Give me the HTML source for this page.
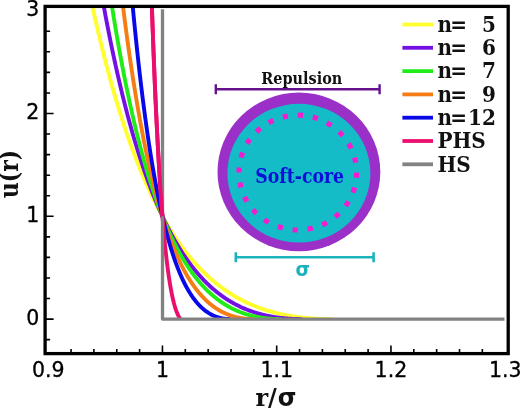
<!DOCTYPE html><html><head><meta charset="utf-8"><title>u(r)</title><style>html,body{margin:0;padding:0;background:#fff}svg{display:block}text{font-family:"DejaVu Serif","Liberation Serif",serif;font-weight:bold}.t{font-family:"DejaVu Sans","Liberation Sans",sans-serif;font-weight:normal;font-size:20.5px;stroke:#000;stroke-width:.3px}.sb{font-family:"DejaVu Sans","Liberation Sans",sans-serif;font-weight:bold}</style></head><body>
<svg width="520" height="409" viewBox="0 0 520 409">
<rect width="520" height="409" fill="#fff"/>
<defs><clipPath id="c"><rect x="45.1" y="6.4" width="463.1" height="313.7"/></clipPath></defs>
<g clip-path="url(#c)" fill="none" stroke-width="3.9" stroke-linejoin="round">
<path d="M82.48,-42.25 L83.10,-39.00 L83.73,-35.77 L84.35,-32.57 L84.98,-29.39 L85.61,-26.25 L86.23,-23.12 L86.86,-20.02 L87.48,-16.95 L88.11,-13.90 L88.74,-10.87 L89.36,-7.87 L89.99,-4.90 L90.62,-1.95 L91.24,0.98 L91.87,3.89 L92.49,6.77 L93.12,9.63 L93.75,12.46 L94.37,15.27 L95.00,18.06 L95.63,20.83 L96.25,23.58 L96.88,26.30 L97.50,29.00 L98.13,31.68 L98.76,34.33 L99.38,36.97 L100.01,39.58 L100.64,42.18 L101.26,44.75 L101.89,47.30 L102.51,49.83 L103.14,52.34 L103.77,54.83 L104.39,57.30 L105.02,59.75 L105.65,62.18 L106.27,64.59 L106.90,66.98 L107.52,69.35 L108.15,71.70 L108.78,74.03 L109.40,76.34 L110.03,78.64 L110.66,80.91 L111.28,83.17 L111.91,85.41 L112.53,87.63 L113.16,89.83 L113.79,92.01 L114.41,94.18 L115.04,96.33 L115.66,98.46 L116.29,100.57 L116.92,102.67 L117.54,104.74 L118.17,106.81 L118.80,108.85 L119.42,110.88 L120.05,112.89 L120.67,114.88 L121.30,116.86 L121.93,118.82 L122.55,120.77 L123.18,122.70 L123.81,124.61 L124.43,126.51 L125.06,128.39 L125.68,130.26 L126.31,132.11 L126.94,133.94 L127.56,135.76 L128.19,137.57 L128.82,139.36 L129.44,141.13 L130.07,142.89 L130.69,144.64 L131.32,146.37 L131.95,148.09 L132.57,149.79 L133.20,151.48 L133.83,153.15 L134.45,154.81 L135.08,156.46 L135.70,158.09 L136.33,159.71 L136.96,161.32 L137.58,162.91 L138.21,164.49 L138.84,166.05 L139.46,167.61 L140.09,169.14 L140.71,170.67 L141.34,172.18 L141.97,173.68 L142.59,175.17 L143.22,176.65 L143.84,178.11 L144.47,179.56 L145.10,181.00 L145.72,182.42 L146.35,183.84 L146.98,185.24 L147.60,186.63 L148.23,188.01 L148.85,189.37 L149.48,190.73 L150.11,192.07 L150.73,193.40 L151.36,194.72 L151.99,196.03 L152.61,197.33 L153.24,198.61 L153.86,199.89 L154.49,201.15 L155.12,202.41 L155.74,203.65 L156.37,204.88 L157.00,206.10 L157.62,207.31 L158.25,208.51 L158.87,209.70 L159.50,210.88 L160.13,212.05 L160.75,213.21 L161.38,214.36 L162.01,215.50 L162.63,216.63 L163.26,217.75 L163.88,218.85 L164.51,219.95 L165.14,221.04 L165.76,222.12 L166.39,223.20 L167.02,224.26 L167.64,225.31 L168.27,226.35 L168.89,227.39 L169.52,228.41 L170.15,229.43 L170.77,230.43 L171.40,231.43 L172.02,232.42 L172.65,233.40 L173.28,234.37 L173.90,235.33 L174.53,236.29 L175.16,237.23 L175.78,238.17 L176.41,239.10 L177.03,240.02 L177.66,240.93 L178.29,241.83 L178.91,242.73 L179.54,243.62 L180.17,244.49 L180.79,245.37 L181.42,246.23 L182.04,247.09 L182.67,247.93 L183.30,248.77 L183.92,249.61 L184.55,250.43 L185.18,251.25 L185.80,252.06 L186.43,252.86 L187.05,253.65 L187.68,254.44 L188.31,255.22 L188.93,256.00 L189.56,256.76 L190.19,257.52 L190.81,258.27 L191.44,259.02 L192.06,259.75 L192.69,260.49 L193.32,261.21 L193.94,261.93 L194.57,262.64 L195.20,263.34 L195.82,264.04 L196.45,264.73 L197.07,265.41 L197.70,266.09 L198.33,266.76 L198.95,267.43 L199.58,268.09 L200.20,268.74 L200.83,269.38 L201.46,270.02 L202.08,270.66 L202.71,271.28 L203.34,271.91 L203.96,272.52 L204.59,273.13 L205.21,273.73 L205.84,274.33 L206.47,274.92 L207.09,275.51 L207.72,276.09 L208.35,276.66 L208.97,277.23 L209.60,277.80 L210.22,278.35 L210.85,278.91 L211.48,279.45 L212.10,279.99 L212.73,280.53 L213.36,281.06 L213.98,281.58 L214.61,282.10 L215.23,282.62 L215.86,283.13 L216.49,283.63 L217.11,284.13 L217.74,284.63 L218.37,285.11 L218.99,285.60 L219.62,286.08 L220.24,286.55 L220.87,287.02 L221.50,287.48 L222.12,287.94 L222.75,288.40 L223.38,288.85 L224.00,289.29 L224.63,289.73 L225.25,290.17 L225.88,290.60 L226.51,291.03 L227.13,291.45 L227.76,291.87 L228.38,292.28 L229.01,292.69 L229.64,293.10 L230.26,293.50 L230.89,293.89 L231.52,294.28 L232.14,294.67 L232.77,295.05 L233.39,295.43 L234.02,295.81 L234.65,296.18 L235.27,296.54 L235.90,296.91 L236.53,297.26 L237.15,297.62 L237.78,297.97 L238.40,298.31 L239.03,298.66 L239.66,299.00 L240.28,299.33 L240.91,299.66 L241.54,299.99 L242.16,300.31 L242.79,300.63 L243.41,300.95 L244.04,301.26 L244.67,301.57 L245.29,301.87 L245.92,302.17 L246.55,302.47 L247.17,302.77 L247.80,303.06 L248.42,303.34 L249.05,303.63 L249.68,303.91 L250.30,304.19 L250.93,304.46 L251.56,304.73 L252.18,305.00 L252.81,305.26 L253.43,305.52 L254.06,305.78 L254.69,306.03 L255.31,306.28 L255.94,306.53 L256.56,306.77 L257.19,307.01 L257.82,307.25 L258.44,307.49 L259.07,307.72 L259.70,307.95 L260.32,308.17 L260.95,308.40 L261.57,308.62 L262.20,308.83 L262.83,309.05 L263.45,309.26 L264.08,309.47 L264.71,309.67 L265.33,309.87 L265.96,310.07 L266.58,310.27 L267.21,310.47 L267.84,310.66 L268.46,310.85 L269.09,311.03 L269.72,311.22 L270.34,311.40 L270.97,311.58 L271.59,311.75 L272.22,311.92 L272.85,312.09 L273.47,312.26 L274.10,312.43 L274.73,312.59 L275.35,312.75 L275.98,312.91 L276.60,313.06 L277.23,313.22 L277.86,313.37 L278.48,313.52 L279.11,313.66 L279.74,313.80 L280.36,313.95 L280.99,314.08 L281.61,314.22 L282.24,314.36 L282.87,314.49 L283.49,314.62 L284.12,314.74 L284.74,314.87 L285.37,314.99 L286.00,315.11 L286.62,315.23 L287.25,315.35 L287.88,315.46 L288.50,315.58 L289.13,315.69 L289.75,315.79 L290.38,315.90 L291.01,316.01 L291.63,316.11 L292.26,316.21 L292.89,316.31 L293.51,316.40 L294.14,316.50 L294.76,316.59 L295.39,316.68 L296.02,316.77 L296.64,316.85 L297.27,316.94 L297.90,317.02 L298.52,317.10 L299.15,317.18 L299.77,317.26 L300.40,317.33 L301.03,317.41 L301.65,317.48 L302.28,317.55 L302.91,317.62 L303.53,317.68 L304.16,317.75 L304.78,317.81 L305.41,317.87 L306.04,317.93 L306.66,317.99 L307.29,318.05 L307.92,318.10 L308.54,318.16 L309.17,318.21 L309.79,318.26 L310.42,318.31 L311.05,318.35 L311.67,318.40 L312.30,318.44 L312.92,318.48 L313.55,318.53 L314.18,318.56 L314.80,318.60 L315.43,318.64 L316.06,318.67 L316.68,318.71 L317.31,318.74 L317.93,318.77 L318.56,318.80 L319.19,318.83 L319.81,318.85 L320.44,318.88 L321.07,318.90 L321.69,318.92 L322.32,318.94 L322.94,318.96 L323.57,318.98 L324.20,319.00 L324.82,319.01 L325.45,319.03 L326.08,319.04 L326.70,319.05 L327.33,319.06 L327.95,319.07 L328.58,319.08 L329.21,319.09 L329.83,319.09 L330.46,319.09 L331.09,319.10 L331.71,319.10 L332.34,319.10" stroke="#ffff2e"/>
<path d="M94.05,-50.72 L94.60,-47.26 L95.15,-43.82 L95.70,-40.42 L96.25,-37.04 L96.80,-33.69 L97.35,-30.37 L97.91,-27.07 L98.46,-23.80 L99.01,-20.56 L99.56,-17.35 L100.11,-14.16 L100.66,-11.00 L101.21,-7.87 L101.76,-4.76 L102.31,-1.68 L102.87,1.38 L103.42,4.41 L103.97,7.42 L104.52,10.40 L105.07,13.35 L105.62,16.28 L106.17,19.19 L106.72,22.07 L107.27,24.93 L107.83,27.77 L108.38,30.58 L108.93,33.37 L109.48,36.13 L110.03,38.87 L110.58,41.59 L111.13,44.29 L111.68,46.96 L112.23,49.61 L112.79,52.24 L113.34,54.84 L113.89,57.43 L114.44,59.99 L114.99,62.53 L115.54,65.05 L116.09,67.55 L116.64,70.03 L117.19,72.48 L117.75,74.92 L118.30,77.33 L118.85,79.73 L119.40,82.10 L119.95,84.46 L120.50,86.79 L121.05,89.11 L121.60,91.40 L122.15,93.68 L122.71,95.93 L123.26,98.17 L123.81,100.39 L124.36,102.59 L124.91,104.77 L125.46,106.93 L126.01,109.07 L126.56,111.20 L127.11,113.31 L127.66,115.39 L128.22,117.47 L128.77,119.52 L129.32,121.56 L129.87,123.57 L130.42,125.57 L130.97,127.56 L131.52,129.53 L132.07,131.48 L132.62,133.41 L133.18,135.33 L133.73,137.23 L134.28,139.11 L134.83,140.98 L135.38,142.83 L135.93,144.66 L136.48,146.48 L137.03,148.29 L137.58,150.07 L138.14,151.85 L138.69,153.60 L139.24,155.34 L139.79,157.07 L140.34,158.78 L140.89,160.48 L141.44,162.16 L141.99,163.83 L142.54,165.48 L143.10,167.12 L143.65,168.74 L144.20,170.35 L144.75,171.95 L145.30,173.53 L145.85,175.10 L146.40,176.65 L146.95,178.19 L147.50,179.72 L148.06,181.23 L148.61,182.73 L149.16,184.21 L149.71,185.69 L150.26,187.15 L150.81,188.59 L151.36,190.03 L151.91,191.45 L152.46,192.86 L153.02,194.25 L153.57,195.64 L154.12,197.01 L154.67,198.37 L155.22,199.72 L155.77,201.05 L156.32,202.37 L156.87,203.68 L157.42,204.98 L157.98,206.27 L158.53,207.55 L159.08,208.81 L159.63,210.06 L160.18,211.30 L160.73,212.53 L161.28,213.75 L161.83,214.96 L162.38,216.16 L162.94,217.34 L163.49,218.52 L164.04,219.68 L164.59,220.84 L165.14,221.98 L165.69,223.11 L166.24,224.23 L166.79,225.35 L167.34,226.45 L167.90,227.54 L168.45,228.62 L169.00,229.69 L169.55,230.75 L170.10,231.81 L170.65,232.85 L171.20,233.88 L171.75,234.90 L172.30,235.91 L172.85,236.92 L173.41,237.91 L173.96,238.90 L174.51,239.87 L175.06,240.84 L175.61,241.79 L176.16,242.74 L176.71,243.68 L177.26,244.61 L177.81,245.53 L178.37,246.45 L178.92,247.35 L179.47,248.24 L180.02,249.13 L180.57,250.01 L181.12,250.88 L181.67,251.74 L182.22,252.59 L182.77,253.44 L183.33,254.27 L183.88,255.10 L184.43,255.92 L184.98,256.74 L185.53,257.54 L186.08,258.34 L186.63,259.13 L187.18,259.91 L187.73,260.68 L188.29,261.45 L188.84,262.21 L189.39,262.96 L189.94,263.70 L190.49,264.44 L191.04,265.16 L191.59,265.89 L192.14,266.60 L192.69,267.31 L193.25,268.01 L193.80,268.70 L194.35,269.39 L194.90,270.06 L195.45,270.74 L196.00,271.40 L196.55,272.06 L197.10,272.71 L197.65,273.36 L198.21,274.00 L198.76,274.63 L199.31,275.25 L199.86,275.87 L200.41,276.49 L200.96,277.09 L201.51,277.69 L202.06,278.29 L202.61,278.87 L203.17,279.46 L203.72,280.03 L204.27,280.60 L204.82,281.16 L205.37,281.72 L205.92,282.27 L206.47,282.82 L207.02,283.36 L207.57,283.89 L208.13,284.42 L208.68,284.94 L209.23,285.46 L209.78,285.97 L210.33,286.48 L210.88,286.98 L211.43,287.47 L211.98,287.96 L212.53,288.44 L213.09,288.92 L213.64,289.40 L214.19,289.86 L214.74,290.33 L215.29,290.78 L215.84,291.24 L216.39,291.68 L216.94,292.13 L217.49,292.56 L218.04,293.00 L218.60,293.42 L219.15,293.85 L219.70,294.27 L220.25,294.68 L220.80,295.09 L221.35,295.49 L221.90,295.89 L222.45,296.28 L223.00,296.67 L223.56,297.06 L224.11,297.44 L224.66,297.81 L225.21,298.19 L225.76,298.55 L226.31,298.91 L226.86,299.27 L227.41,299.63 L227.96,299.98 L228.52,300.32 L229.07,300.66 L229.62,301.00 L230.17,301.33 L230.72,301.66 L231.27,301.99 L231.82,302.31 L232.37,302.62 L232.92,302.93 L233.48,303.24 L234.03,303.55 L234.58,303.85 L235.13,304.14 L235.68,304.44 L236.23,304.73 L236.78,305.01 L237.33,305.29 L237.88,305.57 L238.44,305.85 L238.99,306.12 L239.54,306.38 L240.09,306.65 L240.64,306.91 L241.19,307.16 L241.74,307.41 L242.29,307.66 L242.84,307.91 L243.40,308.15 L243.95,308.39 L244.50,308.63 L245.05,308.86 L245.60,309.09 L246.15,309.31 L246.70,309.53 L247.25,309.75 L247.80,309.97 L248.36,310.18 L248.91,310.39 L249.46,310.60 L250.01,310.80 L250.56,311.00 L251.11,311.20 L251.66,311.39 L252.21,311.58 L252.76,311.77 L253.32,311.96 L253.87,312.14 L254.42,312.32 L254.97,312.49 L255.52,312.67 L256.07,312.84 L256.62,313.01 L257.17,313.17 L257.72,313.33 L258.28,313.49 L258.83,313.65 L259.38,313.80 L259.93,313.95 L260.48,314.10 L261.03,314.25 L261.58,314.39 L262.13,314.53 L262.68,314.67 L263.23,314.81 L263.79,314.94 L264.34,315.07 L264.89,315.20 L265.44,315.33 L265.99,315.45 L266.54,315.57 L267.09,315.69 L267.64,315.81 L268.19,315.92 L268.75,316.03 L269.30,316.14 L269.85,316.25 L270.40,316.35 L270.95,316.45 L271.50,316.55 L272.05,316.65 L272.60,316.75 L273.15,316.84 L273.71,316.93 L274.26,317.02 L274.81,317.11 L275.36,317.19 L275.91,317.28 L276.46,317.36 L277.01,317.43 L277.56,317.51 L278.11,317.59 L278.67,317.66 L279.22,317.73 L279.77,317.80 L280.32,317.86 L280.87,317.93 L281.42,317.99 L281.97,318.05 L282.52,318.11 L283.07,318.17 L283.63,318.22 L284.18,318.28 L284.73,318.33 L285.28,318.38 L285.83,318.43 L286.38,318.47 L286.93,318.52 L287.48,318.56 L288.03,318.60 L288.59,318.64 L289.14,318.68 L289.69,318.71 L290.24,318.75 L290.79,318.78 L291.34,318.81 L291.89,318.84 L292.44,318.87 L292.99,318.89 L293.55,318.92 L294.10,318.94 L294.65,318.96 L295.20,318.98 L295.75,319.00 L296.30,319.01 L296.85,319.03 L297.40,319.04 L297.95,319.06 L298.51,319.07 L299.06,319.07 L299.61,319.08 L300.16,319.09 L300.71,319.09 L301.26,319.10 L301.81,319.10 L302.36,319.10" stroke="#7410e4"/>
<path d="M103.91,-48.20 L104.41,-44.60 L104.91,-41.03 L105.41,-37.49 L105.90,-33.98 L106.40,-30.50 L106.90,-27.05 L107.40,-23.63 L107.90,-20.24 L108.40,-16.88 L108.89,-13.55 L109.39,-10.25 L109.89,-6.98 L110.39,-3.73 L110.89,-0.51 L111.39,2.68 L111.89,5.84 L112.38,8.98 L112.88,12.09 L113.38,15.17 L113.88,18.22 L114.38,21.25 L114.88,24.25 L115.38,27.23 L115.87,30.18 L116.37,33.10 L116.87,36.00 L117.37,38.88 L117.87,41.72 L118.37,44.55 L118.86,47.35 L119.36,50.12 L119.86,52.87 L120.36,55.60 L120.86,58.30 L121.36,60.98 L121.86,63.64 L122.35,66.27 L122.85,68.88 L123.35,71.47 L123.85,74.03 L124.35,76.57 L124.85,79.09 L125.35,81.59 L125.84,84.07 L126.34,86.52 L126.84,88.95 L127.34,91.36 L127.84,93.75 L128.34,96.12 L128.83,98.46 L129.33,100.79 L129.83,103.10 L130.33,105.38 L130.83,107.65 L131.33,109.89 L131.83,112.11 L132.32,114.32 L132.82,116.50 L133.32,118.67 L133.82,120.82 L134.32,122.94 L134.82,125.05 L135.31,127.14 L135.81,129.21 L136.31,131.26 L136.81,133.30 L137.31,135.31 L137.81,137.31 L138.31,139.29 L138.80,141.25 L139.30,143.20 L139.80,145.12 L140.30,147.03 L140.80,148.92 L141.30,150.80 L141.80,152.66 L142.29,154.50 L142.79,156.32 L143.29,158.13 L143.79,159.92 L144.29,161.69 L144.79,163.45 L145.28,165.19 L145.78,166.92 L146.28,168.63 L146.78,170.33 L147.28,172.01 L147.78,173.67 L148.28,175.32 L148.77,176.95 L149.27,178.57 L149.77,180.18 L150.27,181.76 L150.77,183.34 L151.27,184.90 L151.77,186.44 L152.26,187.97 L152.76,189.49 L153.26,190.99 L153.76,192.48 L154.26,193.96 L154.76,195.42 L155.25,196.87 L155.75,198.30 L156.25,199.72 L156.75,201.13 L157.25,202.52 L157.75,203.90 L158.25,205.27 L158.74,206.62 L159.24,207.96 L159.74,209.29 L160.24,210.61 L160.74,211.91 L161.24,213.21 L161.73,214.49 L162.23,215.75 L162.73,217.01 L163.23,218.25 L163.73,219.48 L164.23,220.70 L164.73,221.91 L165.22,223.11 L165.72,224.29 L166.22,225.46 L166.72,226.62 L167.22,227.78 L167.72,228.91 L168.22,230.04 L168.71,231.16 L169.21,232.27 L169.71,233.36 L170.21,234.45 L170.71,235.52 L171.21,236.59 L171.70,237.64 L172.20,238.68 L172.70,239.71 L173.20,240.74 L173.70,241.75 L174.20,242.75 L174.70,243.74 L175.19,244.73 L175.69,245.70 L176.19,246.66 L176.69,247.61 L177.19,248.56 L177.69,249.49 L178.18,250.42 L178.68,251.33 L179.18,252.24 L179.68,253.14 L180.18,254.02 L180.68,254.90 L181.18,255.77 L181.67,256.63 L182.17,257.49 L182.67,258.33 L183.17,259.16 L183.67,259.99 L184.17,260.81 L184.67,261.62 L185.16,262.42 L185.66,263.21 L186.16,264.00 L186.66,264.77 L187.16,265.54 L187.66,266.30 L188.15,267.05 L188.65,267.80 L189.15,268.53 L189.65,269.26 L190.15,269.98 L190.65,270.69 L191.15,271.40 L191.64,272.10 L192.14,272.79 L192.64,273.47 L193.14,274.14 L193.64,274.81 L194.14,275.47 L194.64,276.13 L195.13,276.77 L195.63,277.41 L196.13,278.05 L196.63,278.67 L197.13,279.29 L197.63,279.90 L198.12,280.51 L198.62,281.11 L199.12,281.70 L199.62,282.28 L200.12,282.86 L200.62,283.43 L201.12,284.00 L201.61,284.56 L202.11,285.11 L202.61,285.66 L203.11,286.20 L203.61,286.73 L204.11,287.26 L204.60,287.78 L205.10,288.30 L205.60,288.81 L206.10,289.31 L206.60,289.81 L207.10,290.30 L207.60,290.79 L208.09,291.27 L208.59,291.74 L209.09,292.21 L209.59,292.67 L210.09,293.13 L210.59,293.59 L211.09,294.03 L211.58,294.47 L212.08,294.91 L212.58,295.34 L213.08,295.77 L213.58,296.19 L214.08,296.60 L214.57,297.01 L215.07,297.42 L215.57,297.82 L216.07,298.21 L216.57,298.60 L217.07,298.99 L217.57,299.37 L218.06,299.74 L218.56,300.11 L219.06,300.48 L219.56,300.84 L220.06,301.19 L220.56,301.54 L221.06,301.89 L221.55,302.23 L222.05,302.57 L222.55,302.90 L223.05,303.23 L223.55,303.56 L224.05,303.88 L224.54,304.19 L225.04,304.50 L225.54,304.81 L226.04,305.11 L226.54,305.41 L227.04,305.70 L227.54,305.99 L228.03,306.28 L228.53,306.56 L229.03,306.84 L229.53,307.11 L230.03,307.38 L230.53,307.65 L231.02,307.91 L231.52,308.17 L232.02,308.42 L232.52,308.67 L233.02,308.92 L233.52,309.16 L234.02,309.40 L234.51,309.64 L235.01,309.87 L235.51,310.10 L236.01,310.32 L236.51,310.54 L237.01,310.76 L237.51,310.97 L238.00,311.18 L238.50,311.39 L239.00,311.59 L239.50,311.80 L240.00,311.99 L240.50,312.19 L240.99,312.38 L241.49,312.56 L241.99,312.75 L242.49,312.93 L242.99,313.11 L243.49,313.28 L243.99,313.45 L244.48,313.62 L244.98,313.78 L245.48,313.95 L245.98,314.10 L246.48,314.26 L246.98,314.41 L247.47,314.56 L247.97,314.71 L248.47,314.85 L248.97,315.00 L249.47,315.13 L249.97,315.27 L250.47,315.40 L250.96,315.53 L251.46,315.66 L251.96,315.79 L252.46,315.91 L252.96,316.03 L253.46,316.14 L253.96,316.26 L254.45,316.37 L254.95,316.48 L255.45,316.58 L255.95,316.69 L256.45,316.79 L256.95,316.89 L257.44,316.98 L257.94,317.08 L258.44,317.17 L258.94,317.26 L259.44,317.35 L259.94,317.43 L260.44,317.51 L260.93,317.59 L261.43,317.67 L261.93,317.74 L262.43,317.82 L262.93,317.89 L263.43,317.96 L263.93,318.02 L264.42,318.09 L264.92,318.15 L265.42,318.21 L265.92,318.27 L266.42,318.32 L266.92,318.37 L267.41,318.43 L267.91,318.47 L268.41,318.52 L268.91,318.57 L269.41,318.61 L269.91,318.65 L270.41,318.69 L270.90,318.73 L271.40,318.76 L271.90,318.80 L272.40,318.83 L272.90,318.86 L273.40,318.89 L273.89,318.91 L274.39,318.94 L274.89,318.96 L275.39,318.98 L275.89,319.00 L276.39,319.02 L276.89,319.03 L277.38,319.05 L277.88,319.06 L278.38,319.07 L278.88,319.08 L279.38,319.09 L279.88,319.09 L280.38,319.10 L280.87,319.10 L281.37,319.10" stroke="#22ec18"/>
<path d="M116.42,-50.36 L116.85,-46.40 L117.28,-42.47 L117.71,-38.58 L118.14,-34.73 L118.57,-30.91 L119.00,-27.13 L119.43,-23.39 L119.86,-19.67 L120.29,-16.00 L120.72,-12.35 L121.15,-8.74 L121.58,-5.17 L122.01,-1.63 L122.44,1.88 L122.87,5.36 L123.29,8.80 L123.72,12.21 L124.15,15.59 L124.58,18.94 L125.01,22.25 L125.44,25.54 L125.87,28.79 L126.30,32.02 L126.73,35.21 L127.16,38.37 L127.59,41.50 L128.02,44.61 L128.45,47.68 L128.88,50.73 L129.31,53.74 L129.74,56.73 L130.17,59.69 L130.60,62.62 L131.03,65.52 L131.46,68.40 L131.89,71.24 L132.32,74.07 L132.75,76.86 L133.18,79.63 L133.61,82.37 L134.04,85.08 L134.47,87.77 L134.90,90.43 L135.33,93.07 L135.76,95.68 L136.19,98.27 L136.61,100.83 L137.04,103.37 L137.47,105.88 L137.90,108.37 L138.33,110.83 L138.76,113.27 L139.19,115.69 L139.62,118.08 L140.05,120.45 L140.48,122.80 L140.91,125.12 L141.34,127.42 L141.77,129.70 L142.20,131.96 L142.63,134.19 L143.06,136.41 L143.49,138.60 L143.92,140.77 L144.35,142.92 L144.78,145.04 L145.21,147.15 L145.64,149.23 L146.07,151.30 L146.50,153.34 L146.93,155.37 L147.36,157.37 L147.79,159.36 L148.22,161.32 L148.65,163.26 L149.08,165.19 L149.51,167.10 L149.94,168.98 L150.36,170.85 L150.79,172.70 L151.22,174.53 L151.65,176.35 L152.08,178.14 L152.51,179.92 L152.94,181.67 L153.37,183.42 L153.80,185.14 L154.23,186.84 L154.66,188.53 L155.09,190.20 L155.52,191.86 L155.95,193.49 L156.38,195.11 L156.81,196.72 L157.24,198.31 L157.67,199.88 L158.10,201.43 L158.53,202.97 L158.96,204.49 L159.39,206.00 L159.82,207.49 L160.25,208.97 L160.68,210.43 L161.11,211.88 L161.54,213.31 L161.97,214.72 L162.40,216.12 L162.83,217.51 L163.26,218.88 L163.68,220.24 L164.11,221.58 L164.54,222.91 L164.97,224.23 L165.40,225.53 L165.83,226.82 L166.26,228.09 L166.69,229.35 L167.12,230.60 L167.55,231.83 L167.98,233.05 L168.41,234.26 L168.84,235.45 L169.27,236.63 L169.70,237.80 L170.13,238.95 L170.56,240.10 L170.99,241.23 L171.42,242.35 L171.85,243.45 L172.28,244.55 L172.71,245.63 L173.14,246.70 L173.57,247.76 L174.00,248.80 L174.43,249.84 L174.86,250.86 L175.29,251.87 L175.72,252.87 L176.15,253.86 L176.58,254.84 L177.01,255.81 L177.43,256.77 L177.86,257.71 L178.29,258.65 L178.72,259.57 L179.15,260.49 L179.58,261.39 L180.01,262.29 L180.44,263.17 L180.87,264.04 L181.30,264.90 L181.73,265.76 L182.16,266.60 L182.59,267.43 L183.02,268.26 L183.45,269.07 L183.88,269.88 L184.31,270.67 L184.74,271.46 L185.17,272.23 L185.60,273.00 L186.03,273.76 L186.46,274.51 L186.89,275.25 L187.32,275.98 L187.75,276.70 L188.18,277.42 L188.61,278.12 L189.04,278.82 L189.47,279.50 L189.90,280.18 L190.33,280.86 L190.75,281.52 L191.18,282.17 L191.61,282.82 L192.04,283.46 L192.47,284.09 L192.90,284.71 L193.33,285.33 L193.76,285.93 L194.19,286.53 L194.62,287.13 L195.05,287.71 L195.48,288.29 L195.91,288.86 L196.34,289.42 L196.77,289.97 L197.20,290.52 L197.63,291.06 L198.06,291.59 L198.49,292.12 L198.92,292.64 L199.35,293.15 L199.78,293.66 L200.21,294.16 L200.64,294.65 L201.07,295.13 L201.50,295.61 L201.93,296.08 L202.36,296.55 L202.79,297.01 L203.22,297.46 L203.65,297.91 L204.08,298.35 L204.50,298.78 L204.93,299.21 L205.36,299.63 L205.79,300.05 L206.22,300.46 L206.65,300.86 L207.08,301.26 L207.51,301.65 L207.94,302.04 L208.37,302.42 L208.80,302.80 L209.23,303.16 L209.66,303.53 L210.09,303.89 L210.52,304.24 L210.95,304.59 L211.38,304.93 L211.81,305.27 L212.24,305.60 L212.67,305.93 L213.10,306.25 L213.53,306.56 L213.96,306.88 L214.39,307.18 L214.82,307.48 L215.25,307.78 L215.68,308.07 L216.11,308.36 L216.54,308.64 L216.97,308.92 L217.40,309.19 L217.82,309.46 L218.25,309.72 L218.68,309.98 L219.11,310.23 L219.54,310.48 L219.97,310.73 L220.40,310.97 L220.83,311.21 L221.26,311.44 L221.69,311.67 L222.12,311.89 L222.55,312.11 L222.98,312.32 L223.41,312.54 L223.84,312.74 L224.27,312.95 L224.70,313.14 L225.13,313.34 L225.56,313.53 L225.99,313.72 L226.42,313.90 L226.85,314.08 L227.28,314.26 L227.71,314.43 L228.14,314.60 L228.57,314.76 L229.00,314.92 L229.43,315.08 L229.86,315.23 L230.29,315.39 L230.72,315.53 L231.15,315.68 L231.57,315.82 L232.00,315.95 L232.43,316.09 L232.86,316.21 L233.29,316.34 L233.72,316.46 L234.15,316.58 L234.58,316.70 L235.01,316.82 L235.44,316.93 L235.87,317.03 L236.30,317.14 L236.73,317.24 L237.16,317.34 L237.59,317.43 L238.02,317.52 L238.45,317.61 L238.88,317.70 L239.31,317.78 L239.74,317.86 L240.17,317.94 L240.60,318.02 L241.03,318.09 L241.46,318.16 L241.89,318.23 L242.32,318.29 L242.75,318.35 L243.18,318.41 L243.61,318.47 L244.04,318.52 L244.47,318.57 L244.89,318.62 L245.32,318.67 L245.75,318.71 L246.18,318.75 L246.61,318.79 L247.04,318.83 L247.47,318.86 L247.90,318.89 L248.33,318.92 L248.76,318.95 L249.19,318.97 L249.62,319.00 L250.05,319.02 L250.48,319.03 L250.91,319.05 L251.34,319.06 L251.77,319.07 L252.20,319.08 L252.63,319.09 L253.06,319.10 L253.49,319.10 L253.92,319.10" stroke="#f57d14"/>
<path d="M127.70,-50.97 L128.07,-46.45 L128.44,-41.98 L128.81,-37.56 L129.18,-33.19 L129.55,-28.86 L129.93,-24.57 L130.30,-20.34 L130.67,-16.14 L131.04,-11.99 L131.41,-7.88 L131.78,-3.82 L132.15,0.20 L132.52,4.18 L132.89,8.11 L133.26,12.01 L133.63,15.86 L134.00,19.68 L134.37,23.45 L134.74,27.18 L135.12,30.87 L135.49,34.53 L135.86,38.14 L136.23,41.72 L136.60,45.25 L136.97,48.75 L137.34,52.22 L137.71,55.64 L138.08,59.03 L138.45,62.38 L138.82,65.70 L139.19,68.98 L139.56,72.22 L139.93,75.43 L140.31,78.61 L140.68,81.75 L141.05,84.86 L141.42,87.93 L141.79,90.97 L142.16,93.98 L142.53,96.95 L142.90,99.90 L143.27,102.81 L143.64,105.68 L144.01,108.53 L144.38,111.35 L144.75,114.13 L145.12,116.89 L145.49,119.61 L145.87,122.30 L146.24,124.97 L146.61,127.60 L146.98,130.21 L147.35,132.79 L147.72,135.33 L148.09,137.85 L148.46,140.35 L148.83,142.81 L149.20,145.25 L149.57,147.66 L149.94,150.04 L150.31,152.39 L150.68,154.72 L151.06,157.03 L151.43,159.30 L151.80,161.55 L152.17,163.78 L152.54,165.98 L152.91,168.16 L153.28,170.31 L153.65,172.44 L154.02,174.54 L154.39,176.62 L154.76,178.67 L155.13,180.70 L155.50,182.71 L155.87,184.70 L156.25,186.66 L156.62,188.60 L156.99,190.51 L157.36,192.41 L157.73,194.28 L158.10,196.13 L158.47,197.96 L158.84,199.77 L159.21,201.56 L159.58,203.32 L159.95,205.07 L160.32,206.79 L160.69,208.50 L161.06,210.18 L161.44,211.84 L161.81,213.49 L162.18,215.11 L162.55,216.72 L162.92,218.31 L163.29,219.87 L163.66,221.42 L164.03,222.95 L164.40,224.46 L164.77,225.96 L165.14,227.43 L165.51,228.89 L165.88,230.33 L166.25,231.75 L166.63,233.16 L167.00,234.54 L167.37,235.92 L167.74,237.27 L168.11,238.61 L168.48,239.93 L168.85,241.23 L169.22,242.52 L169.59,243.79 L169.96,245.05 L170.33,246.29 L170.70,247.51 L171.07,248.72 L171.44,249.91 L171.82,251.09 L172.19,252.26 L172.56,253.40 L172.93,254.54 L173.30,255.66 L173.67,256.76 L174.04,257.85 L174.41,258.93 L174.78,259.99 L175.15,261.04 L175.52,262.08 L175.89,263.10 L176.26,264.11 L176.63,265.10 L177.00,266.08 L177.38,267.05 L177.75,268.01 L178.12,268.95 L178.49,269.88 L178.86,270.80 L179.23,271.71 L179.60,272.60 L179.97,273.48 L180.34,274.35 L180.71,275.21 L181.08,276.05 L181.45,276.89 L181.82,277.71 L182.19,278.52 L182.57,279.32 L182.94,280.11 L183.31,280.88 L183.68,281.65 L184.05,282.41 L184.42,283.15 L184.79,283.88 L185.16,284.61 L185.53,285.32 L185.90,286.02 L186.27,286.71 L186.64,287.40 L187.01,288.07 L187.38,288.73 L187.76,289.38 L188.13,290.03 L188.50,290.66 L188.87,291.28 L189.24,291.90 L189.61,292.50 L189.98,293.10 L190.35,293.68 L190.72,294.26 L191.09,294.83 L191.46,295.39 L191.83,295.94 L192.20,296.48 L192.57,297.01 L192.95,297.54 L193.32,298.06 L193.69,298.56 L194.06,299.06 L194.43,299.55 L194.80,300.04 L195.17,300.51 L195.54,300.98 L195.91,301.44 L196.28,301.89 L196.65,302.34 L197.02,302.77 L197.39,303.20 L197.76,303.63 L198.14,304.04 L198.51,304.45 L198.88,304.85 L199.25,305.24 L199.62,305.63 L199.99,306.01 L200.36,306.38 L200.73,306.74 L201.10,307.10 L201.47,307.45 L201.84,307.80 L202.21,308.14 L202.58,308.47 L202.95,308.79 L203.33,309.11 L203.70,309.42 L204.07,309.73 L204.44,310.03 L204.81,310.33 L205.18,310.61 L205.55,310.90 L205.92,311.17 L206.29,311.44 L206.66,311.71 L207.03,311.97 L207.40,312.22 L207.77,312.47 L208.14,312.71 L208.51,312.95 L208.89,313.18 L209.26,313.41 L209.63,313.63 L210.00,313.84 L210.37,314.05 L210.74,314.26 L211.11,314.46 L211.48,314.66 L211.85,314.85 L212.22,315.03 L212.59,315.21 L212.96,315.39 L213.33,315.56 L213.70,315.72 L214.08,315.89 L214.45,316.04 L214.82,316.20 L215.19,316.34 L215.56,316.49 L215.93,316.63 L216.30,316.76 L216.67,316.89 L217.04,317.02 L217.41,317.14 L217.78,317.26 L218.15,317.37 L218.52,317.48 L218.89,317.59 L219.27,317.69 L219.64,317.79 L220.01,317.88 L220.38,317.97 L220.75,318.06 L221.12,318.14 L221.49,318.22 L221.86,318.29 L222.23,318.37 L222.60,318.43 L222.97,318.50 L223.34,318.56 L223.71,318.62 L224.08,318.67 L224.46,318.72 L224.83,318.77 L225.20,318.81 L225.57,318.85 L225.94,318.89 L226.31,318.92 L226.68,318.96 L227.05,318.98 L227.42,319.01 L227.79,319.03 L228.16,319.05 L228.53,319.06 L228.90,319.08 L229.27,319.09 L229.65,319.09 L230.02,319.10 L230.39,319.10" stroke="#0808e8"/>
<path d="M150.08,-49.62 L150.18,-46.26 L150.28,-42.92 L150.38,-39.61 L150.48,-36.33 L150.58,-33.07 L150.69,-29.83 L150.79,-26.62 L150.89,-23.43 L150.99,-20.26 L151.09,-17.12 L151.19,-14.01 L151.29,-10.91 L151.40,-7.84 L151.50,-4.79 L151.60,-1.76 L151.70,1.24 L151.80,4.22 L151.90,7.18 L152.00,10.11 L152.11,13.03 L152.21,15.92 L152.31,18.79 L152.41,21.63 L152.51,24.46 L152.61,27.27 L152.71,30.05 L152.82,32.81 L152.92,35.55 L153.02,38.27 L153.12,40.97 L153.22,43.65 L153.32,46.31 L153.42,48.95 L153.52,51.57 L153.63,54.17 L153.73,56.74 L153.83,59.30 L153.93,61.84 L154.03,64.36 L154.13,66.86 L154.23,69.34 L154.34,71.80 L154.44,74.24 L154.54,76.67 L154.64,79.07 L154.74,81.45 L154.84,83.82 L154.94,86.17 L155.05,88.50 L155.15,90.81 L155.25,93.10 L155.35,95.38 L155.45,97.64 L155.55,99.88 L155.65,102.10 L155.76,104.30 L155.86,106.49 L155.96,108.66 L156.06,110.82 L156.16,112.95 L156.26,115.07 L156.36,117.17 L156.47,119.26 L156.57,121.33 L156.67,123.38 L156.77,125.41 L156.87,127.43 L156.97,129.44 L157.07,131.42 L157.17,133.39 L157.28,135.35 L157.38,137.29 L157.48,139.21 L157.58,141.12 L157.68,143.01 L157.78,144.89 L157.88,146.75 L157.99,148.60 L158.09,150.43 L158.19,152.25 L158.29,154.05 L158.39,155.84 L158.49,157.61 L158.59,159.37 L158.70,161.11 L158.80,162.84 L158.90,164.55 L159.00,166.25 L159.10,167.94 L159.20,169.61 L159.30,171.27 L159.41,172.92 L159.51,174.55 L159.61,176.16 L159.71,177.77 L159.81,179.36 L159.91,180.93 L160.01,182.50 L160.12,184.05 L160.22,185.59 L160.32,187.11 L160.42,188.62 L160.52,190.12 L160.62,191.61 L160.72,193.08 L160.82,194.54 L160.93,195.99 L161.03,197.42 L161.13,198.85 L161.23,200.26 L161.33,201.66 L161.43,203.04 L161.53,204.42 L161.64,205.78 L161.74,207.13 L161.84,208.47 L161.94,209.80 L162.04,211.11 L162.14,212.42 L162.24,213.71 L162.35,214.99 L162.45,216.26 L162.55,217.52 L162.65,218.77 L162.75,220.01 L162.85,221.23 L162.95,222.45 L163.06,223.65 L163.16,224.85 L163.26,226.03 L163.36,227.20 L163.46,228.36 L163.56,229.51 L163.66,230.65 L163.77,231.78 L163.87,232.90 L163.97,234.01 L164.07,235.11 L164.17,236.20 L164.27,237.28 L164.37,238.35 L164.47,239.41 L164.58,240.46 L164.68,241.50 L164.78,242.53 L164.88,243.55 L164.98,244.56 L165.08,245.57 L165.18,246.56 L165.29,247.54 L165.39,248.52 L165.49,249.48 L165.59,250.44 L165.69,251.38 L165.79,252.32 L165.89,253.25 L166.00,254.17 L166.10,255.08 L166.20,255.98 L166.30,256.88 L166.40,257.76 L166.50,258.64 L166.60,259.50 L166.71,260.36 L166.81,261.21 L166.91,262.06 L167.01,262.89 L167.11,263.72 L167.21,264.53 L167.31,265.34 L167.42,266.15 L167.52,266.94 L167.62,267.73 L167.72,268.50 L167.82,269.27 L167.92,270.04 L168.02,270.79 L168.12,271.54 L168.23,272.28 L168.33,273.01 L168.43,273.73 L168.53,274.45 L168.63,275.16 L168.73,275.86 L168.83,276.55 L168.94,277.24 L169.04,277.92 L169.14,278.59 L169.24,279.26 L169.34,279.92 L169.44,280.57 L169.54,281.22 L169.65,281.85 L169.75,282.49 L169.85,283.11 L169.95,283.73 L170.05,284.34 L170.15,284.94 L170.25,285.54 L170.36,286.13 L170.46,286.72 L170.56,287.29 L170.66,287.87 L170.76,288.43 L170.86,288.99 L170.96,289.54 L171.07,290.09 L171.17,290.63 L171.27,291.16 L171.37,291.69 L171.47,292.21 L171.57,292.73 L171.67,293.24 L171.77,293.75 L171.88,294.24 L171.98,294.74 L172.08,295.22 L172.18,295.70 L172.28,296.18 L172.38,296.65 L172.48,297.11 L172.59,297.57 L172.69,298.02 L172.79,298.47 L172.89,298.91 L172.99,299.35 L173.09,299.78 L173.19,300.20 L173.30,300.63 L173.40,301.04 L173.50,301.45 L173.60,301.85 L173.70,302.25 L173.80,302.65 L173.90,303.04 L174.01,303.42 L174.11,303.80 L174.21,304.18 L174.31,304.54 L174.41,304.91 L174.51,305.27 L174.61,305.62 L174.72,305.97 L174.82,306.32 L174.92,306.66 L175.02,307.00 L175.12,307.33 L175.22,307.65 L175.32,307.98 L175.42,308.29 L175.53,308.61 L175.63,308.91 L175.73,309.22 L175.83,309.52 L175.93,309.81 L176.03,310.10 L176.13,310.39 L176.24,310.67 L176.34,310.95 L176.44,311.23 L176.54,311.50 L176.64,311.76 L176.74,312.02 L176.84,312.28 L176.95,312.53 L177.05,312.78 L177.15,313.03 L177.25,313.27 L177.35,313.51 L177.45,313.74 L177.55,313.97 L177.66,314.20 L177.76,314.42 L177.86,314.64 L177.96,314.85 L178.06,315.06 L178.16,315.27 L178.26,315.47 L178.36,315.67 L178.47,315.87 L178.57,316.06 L178.67,316.25 L178.77,316.44 L178.87,316.62 L178.97,316.80 L179.07,316.98 L179.18,317.15 L179.28,317.32 L179.38,317.48 L179.48,317.64 L179.58,317.80 L179.68,317.96 L179.78,318.11 L179.89,318.26 L179.99,318.40 L180.09,318.55 L180.19,318.69 L180.29,318.82 L180.39,318.95 L180.49,319.09 L180.60,319.21 L180.70,319.34 L180.80,319.46" stroke="#ea0f6e"/>
</g><g fill="none" stroke-width="3.9" stroke-linejoin="round">
<path d="M162.50,9.20 L162.50,319.10 L504.50,319.10" stroke="#828282" stroke-width="3.3" stroke-linejoin="round"/>
<path clip-path="url(#c)" d="M150.08,-49.62 L150.18,-46.26 L150.28,-42.92 L150.38,-39.61 L150.48,-36.33 L150.58,-33.07 L150.69,-29.83 L150.79,-26.62 L150.89,-23.43 L150.99,-20.26 L151.09,-17.12 L151.19,-14.01 L151.29,-10.91 L151.40,-7.84 L151.50,-4.79 L151.60,-1.76 L151.70,1.24 L151.80,4.22 L151.90,7.18 L152.00,10.11 L152.11,13.03 L152.21,15.92 L152.31,18.79 L152.41,21.63 L152.51,24.46 L152.61,27.27 L152.71,30.05 L152.82,32.81 L152.92,35.55 L153.02,38.27 L153.12,40.97 L153.22,43.65 L153.32,46.31 L153.42,48.95 L153.52,51.57 L153.63,54.17 L153.73,56.74 L153.83,59.30 L153.93,61.84 L154.03,64.36 L154.13,66.86 L154.23,69.34 L154.34,71.80 L154.44,74.24 L154.54,76.67 L154.64,79.07 L154.74,81.45 L154.84,83.82 L154.94,86.17 L155.05,88.50 L155.15,90.81 L155.25,93.10 L155.35,95.38 L155.45,97.64 L155.55,99.88 L155.65,102.10 L155.76,104.30 L155.86,106.49 L155.96,108.66 L156.06,110.82 L156.16,112.95 L156.26,115.07 L156.36,117.17 L156.47,119.26 L156.57,121.33 L156.67,123.38 L156.77,125.41 L156.87,127.43 L156.97,129.44 L157.07,131.42 L157.17,133.39 L157.28,135.35 L157.38,137.29 L157.48,139.21 L157.58,141.12 L157.68,143.01 L157.78,144.89 L157.88,146.75 L157.99,148.60 L158.09,150.43 L158.19,152.25 L158.29,154.05 L158.39,155.84 L158.49,157.61 L158.59,159.37 L158.70,161.11 L158.80,162.84 L158.90,164.55 L159.00,166.25 L159.10,167.94 L159.20,169.61 L159.30,171.27 L159.41,172.92 L159.51,174.55 L159.61,176.16 L159.71,177.77 L159.81,179.36 L159.91,180.93 L160.01,182.50 L160.12,184.05 L160.22,185.59 L160.32,187.11 L160.42,188.62 L160.52,190.12 L160.62,191.61 L160.72,193.08 L160.82,194.54 L160.93,195.99 L161.03,197.42 L161.13,198.85 L161.23,200.26 L161.33,201.66 L161.43,203.04 L161.53,204.42 L161.64,205.78 L161.74,207.13 L161.84,208.47 L161.94,209.80 L162.04,211.11 L162.14,212.42 L162.24,213.71 L162.35,214.99 L162.45,216.26" stroke="#ea0f6e"/>
</g>
<ellipse cx="298.9" cy="171.9" rx="81.4" ry="79.3" fill="#9a30c8"/>
<ellipse cx="298.9" cy="173.2" rx="71.5" ry="69.4" fill="#14bcc8"/>
<ellipse cx="297.8" cy="172.6" rx="58.8" ry="57.4" fill="none" stroke="#f41ccc" stroke-width="5.2" pathLength="360" stroke-dasharray="5.2 9.8"/>
<g stroke="#66128e" stroke-width="2.4" fill="none"><path d="M215.8,89.2H379.6M215.8,84.3V94.3M379.6,84.3V94.3"/></g>
<g stroke="#1cb4bc" stroke-width="2.6" fill="none"><path d="M235.8,257.2H373.6M235.8,252.3V262.3M373.6,252.3V262.3"/></g>
<text id="rep" transform="translate(261.3,83.9) scale(0.86,1)" font-size="16.8" fill="#111">Repulsion</text>
<text id="soft" transform="translate(255.3,182.8) scale(0.84,1)" font-size="20.6" fill="#0a10d8">Soft-core</text>
<text id="sig" class="sb" x="302.7" y="275.9" font-size="18.6" fill="#1cb2ba" text-anchor="middle">σ</text>
<rect x="45.1" y="6.4" width="463.1" height="347.2" fill="none" stroke="#000" stroke-width="3.3"/>
<path d="M71.05,353.60V349.10M93.90,353.60V349.10M116.75,353.60V349.10M139.60,353.60V349.10M162.45,353.60V345.60M185.30,353.60V349.10M208.15,353.60V349.10M231.00,353.60V349.10M253.85,353.60V349.10M276.70,353.60V345.60M299.55,353.60V349.10M322.40,353.60V349.10M345.25,353.60V349.10M368.10,353.60V349.10M390.95,353.60V345.60M413.80,353.60V349.10M436.65,353.60V349.10M459.50,353.60V349.10M482.35,353.60V349.10M45.10,339.66H50.10M45.10,319.10H53.60M45.10,298.54H50.10M45.10,277.98H50.10M45.10,257.42H50.10M45.10,236.86H50.10M45.10,216.30H53.60M45.10,195.74H50.10M45.10,175.18H50.10M45.10,154.62H50.10M45.10,134.06H50.10M45.10,113.50H53.60M45.10,92.94H50.10M45.10,72.38H50.10M45.10,51.82H50.10M45.10,31.26H50.10" stroke="#000" stroke-width="1.6" fill="none"/>
<text class="t" x="48.2" y="377.1" text-anchor="middle">0.9</text>
<text class="t" x="162.4" y="377.1" text-anchor="middle">1</text>
<text class="t" x="276.7" y="377.1" text-anchor="middle">1.1</text>
<text class="t" x="390.9" y="377.1" text-anchor="middle">1.2</text>
<text class="t" x="505.2" y="377.1" text-anchor="middle">1.3</text>
<text class="t" x="39.4" y="324.6" text-anchor="end">0</text>
<text class="t" x="39.4" y="221.8" text-anchor="end">1</text>
<text class="t" x="39.4" y="119.0" text-anchor="end">2</text>
<text class="t" x="39.4" y="16.2" text-anchor="end">3</text>
<text id="xl" x="275.9" y="405.6" font-size="24" text-anchor="middle" fill="#111">r/<tspan class="sb" dx="0.8">σ</tspan></text>
<text id="yl" transform="translate(18.1,174.0) rotate(-90) scale(0.905,1.03)" font-size="24.4" text-anchor="middle" fill="#111">u(r)</text>
<path d="M402.4,24.50H433" stroke="#ffff2e" stroke-width="3.8" fill="none"/>
<text class="lg" transform="translate(437.4,31.80) scale(0.91,1)" dx="0 -1.8 0 0 1.1" font-size="22" fill="#111" xml:space="preserve">n=  5</text>
<path d="M402.4,47.80H433" stroke="#7410e4" stroke-width="3.8" fill="none"/>
<text class="lg" transform="translate(437.4,55.10) scale(0.91,1)" dx="0 -1.8 0 0 1.1" font-size="22" fill="#111" xml:space="preserve">n=  6</text>
<path d="M402.4,71.10H433" stroke="#22ec18" stroke-width="3.8" fill="none"/>
<text class="lg" transform="translate(437.4,78.40) scale(0.91,1)" dx="0 -1.8 0 0 1.1" font-size="22" fill="#111" xml:space="preserve">n=  7</text>
<path d="M402.4,94.40H433" stroke="#f57d14" stroke-width="3.8" fill="none"/>
<text class="lg" transform="translate(437.4,101.70) scale(0.91,1)" dx="0 -1.8 0 0 1.1" font-size="22" fill="#111" xml:space="preserve">n=  9</text>
<path d="M402.4,117.70H433" stroke="#0808e8" stroke-width="3.8" fill="none"/>
<text class="lg" transform="translate(437.4,125.00) scale(0.91,1)" dx="0 -1.8 1.1" font-size="22" fill="#111" xml:space="preserve">n=12</text>
<path d="M402.4,141.00H433" stroke="#ea0f6e" stroke-width="3.8" fill="none"/>
<text class="lg" transform="translate(437.4,148.30) scale(0.91,1)" font-size="22" fill="#111" xml:space="preserve">PHS</text>
<path d="M402.4,164.30H433" stroke="#828282" stroke-width="3.8" fill="none"/>
<text class="lg" transform="translate(437.4,171.60) scale(0.91,1)" font-size="22" fill="#111" xml:space="preserve">HS</text>
</svg></body></html>
